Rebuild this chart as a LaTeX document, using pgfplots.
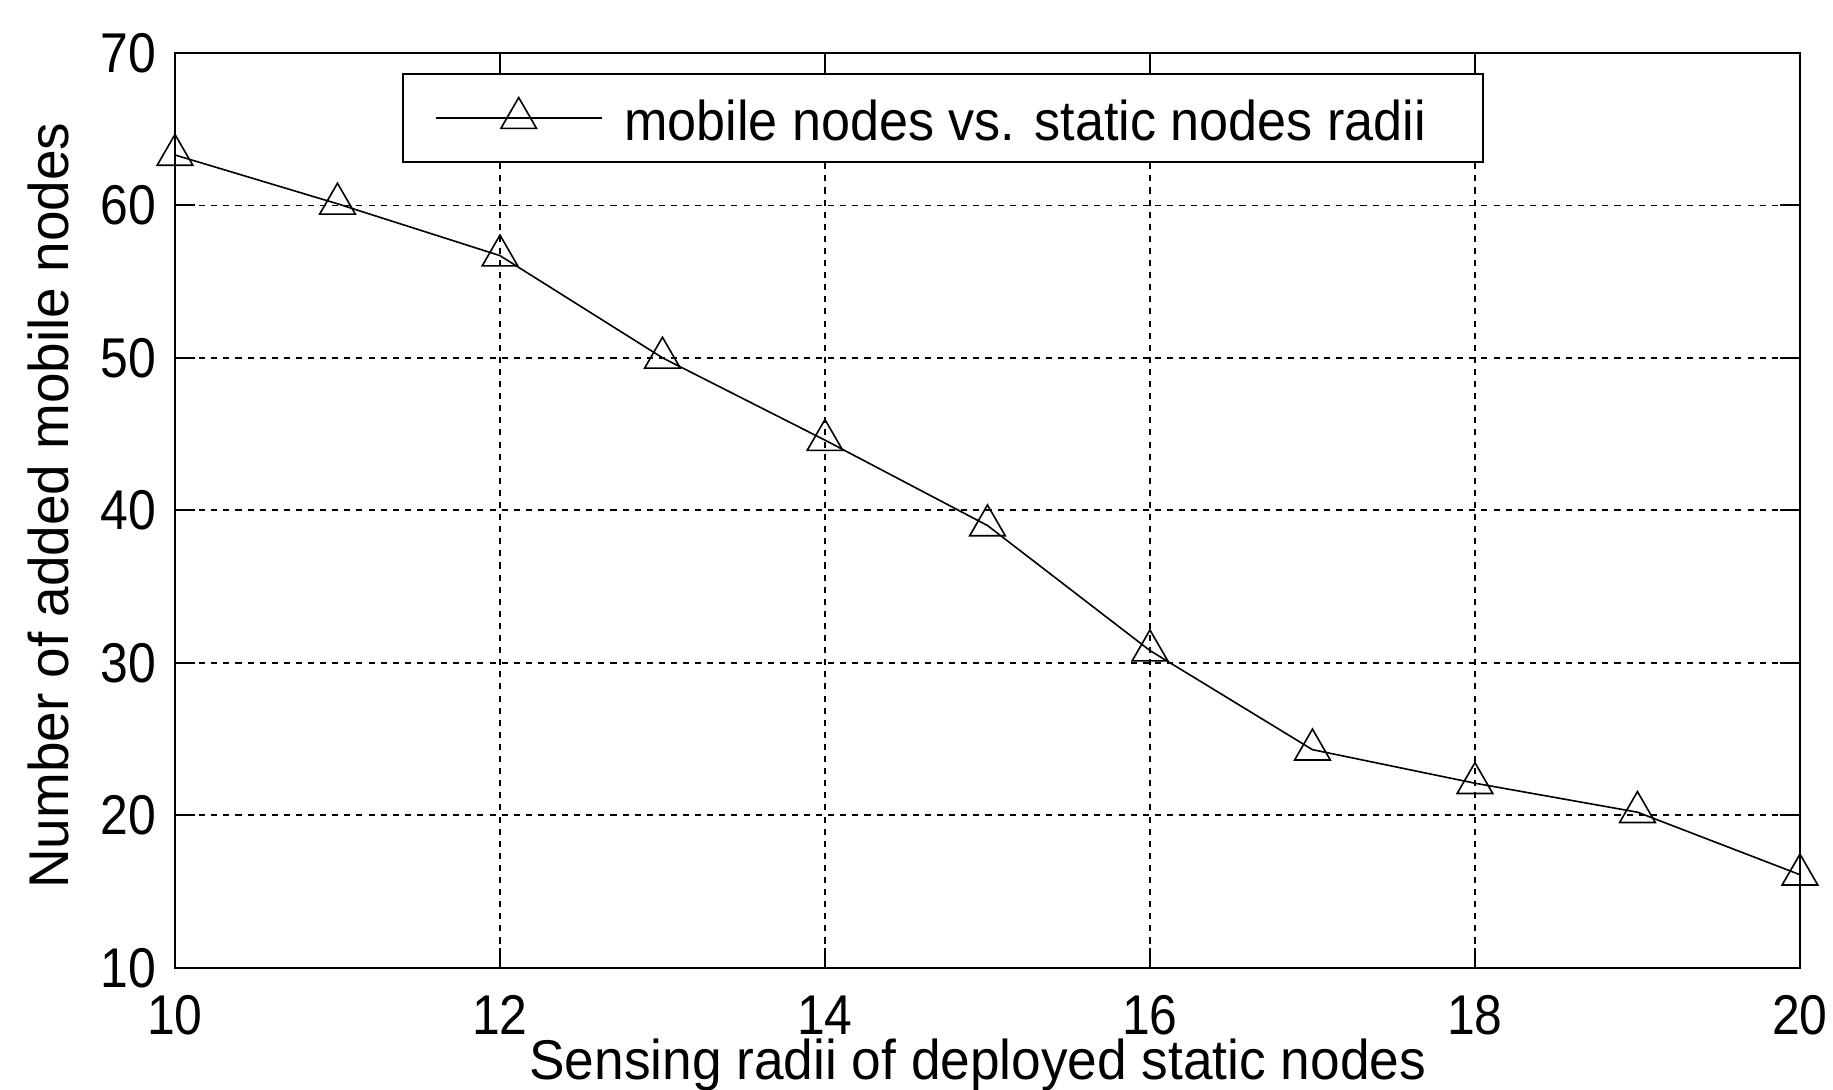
\documentclass[border=0pt]{standalone}
\usepackage{fontspec}
\setmainfont{Liberation Sans}[FakeStretch=0.89]
\newfontfamily\xlabfont{Liberation Sans}[FakeStretch=0.95]
\newfontfamily\ylabfont{Liberation Sans}[FakeStretch=0.98]
\newfontfamily\legfont{Liberation Sans}[FakeStretch=0.93]
\usepackage{pgfplots}
\pgfplotsset{compat=1.18}
\begin{document}
\fontsize{13.9}{16}\selectfont
\begin{tikzpicture}
\begin{axis}[
  width=403pt, height=226.9pt, scale only axis,
  xmin=10, xmax=20, ymin=10, ymax=70,
  xtick={10,12,...,20}, ytick={10,20,...,70},
  tick align=inside, major tick length=5pt,
  xtick pos=both, ytick pos=both,
  grid=major,
  major grid style={black, line width=0.4pt, dash pattern=on 1.5pt off 1.5pt},
  axis line style={black, line width=0.5pt},
  tick style={black, line width=0.5pt},
  /pgf/number format/assume math mode=true,
  ticklabel style={font=\fontsize{13.9}{16}\selectfont},
  xticklabel style={inner sep=0pt, yshift=-6.7pt},
  yticklabel style={inner sep=0pt, xshift=-4.5pt},
  xlabel={Sensing radii of deployed static nodes},
  ylabel={Number of added mobile nodes},
  xlabel style={font=\fontsize{13.9}{16}\xlabfont, inner sep=0pt, at={(axis description cs:0.494,-0.1225)}, anchor=base},
  ylabel style={font=\fontsize{13.9}{16}\ylabfont, inner sep=0pt, at={(axis description cs:-0.0658,0.505)}, anchor=base},
  legend style={at={(axis description cs:0.1397,0.978)}, anchor=north west, draw=black, line width=0.5pt,
    inner sep=0pt, column sep=0pt, row sep=0pt,
    nodes={inner sep=0pt, text height=16.4pt, text depth=5.5pt,
      font=\fontsize{13.9}{16}\legfont}},
  legend cell align=left,
  legend image code/.code={
    \path[draw=none, fill=none] (-8.1pt,-6pt) rectangle (46.8pt,6pt);
    \draw[#1] (0pt,0pt) -- (41.3pt,0pt);
    \draw[#1, mark repeat=1] plot coordinates {(20.6pt,0pt)};
  },
]
\addplot[black, line width=0.4pt, mark=triangle, mark size=5.1pt,
  mark options={solid, line width=0.4pt, fill=none}]
coordinates {
(10,63.3) (11,60.1) (12,56.7) (13,50.0) (14,44.6) (15,39.0)
(16,30.8) (17,24.3) (18,22.1) (19,20.2) (20,16.1)
};
\addlegendentry{mobile nodes vs. static nodes radii\hspace*{14.1pt}}
\end{axis}
\pgfresetboundingbox
\path ([shift={(-43.4pt,-30.2pt)}]current axis.south west) rectangle ([shift={(8.2pt,13.1pt)}]current axis.north east);
\end{tikzpicture}
\end{document}
